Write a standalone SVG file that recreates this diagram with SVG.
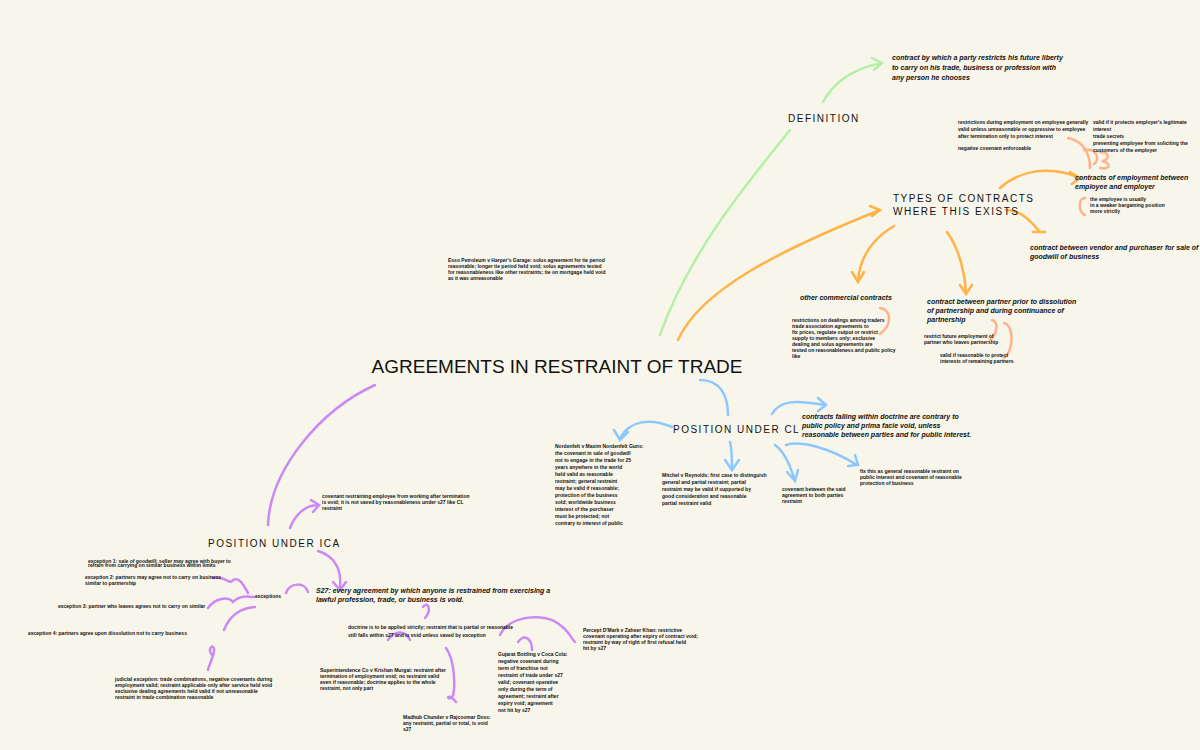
<svg xmlns="http://www.w3.org/2000/svg" width="1200" height="750" viewBox="0 0 1200 750">
<style>
.t{font-family:"Liberation Sans",Arial,sans-serif;fill:#111}
.s{font-size:5px;font-weight:bold}
.m{font-size:7px;font-style:italic;font-weight:bold}
.h{font-size:10px;letter-spacing:1.5px}
.g{fill:none;stroke:#b5f0a8;stroke-width:2.5;stroke-linecap:round}
.o{fill:none;stroke:#ffb347;stroke-width:2.5;stroke-linecap:round}
.p{fill:none;stroke:#ffb38a;stroke-width:2.5;stroke-linecap:round}
.b{fill:none;stroke:#8cc8ff;stroke-width:2.5;stroke-linecap:round}
.v{fill:none;stroke:#cc88f5;stroke-width:2.5;stroke-linecap:round}
</style>
<rect width="1200" height="750" fill="#f8f6ea"/>
<g id="connectors">
<path class="g" d="M660 335 C690 250 750 180 790 130"/>
<path class="g" d="M823 102 C835 80 855 68 882 63 M872 58 L882 63 L874 70"/>
<path class="o" d="M678 340 C700 290 780 250 880 210 M870 206 L880 210 L872 216"/>
<path class="o" d="M1000 188 C1020 170 1050 165 1080 178 M1070 172 L1080 178 L1072 184"/>
<path class="o" d="M1006 210 C1020 210 1030 220 1040 232 M1033 232 L1045 232"/>
<path class="o" d="M894 226 C870 240 860 260 858 280 M852 272 L858 282 L864 272"/>
<path class="o" d="M947 232 C960 250 965 275 966 292 M960 285 L966 294 L972 285"/>
<path class="p" d="M1068 138 C1080 140 1090 150 1090 168 M1084 150 C1098 148 1100 160 1094 164"/>
<path class="p" d="M1100 152 C1110 152 1110 160 1102 161 C1112 163 1110 170 1100 168"/>
<path class="p" d="M1085 198 C1078 198 1078 212 1085 215"/>
<path class="p" d="M880 308 C892 310 892 325 880 334"/>
<path class="p" d="M992 320 C1000 322 996 336 990 340"/>
<path class="p" d="M1004 323 C1014 325 1014 350 1004 358"/>
<path class="b" d="M700 380 C720 380 728 395 728 415"/>
<path class="b" d="M672 427 C650 418 630 420 620 438 M614 430 L620 440 L628 432"/>
<path class="b" d="M772 414 C780 400 795 400 825 405 M818 398 L826 405 L818 411"/>
<path class="b" d="M730 442 C732 450 732 460 732 468 M725 460 L732 470 L739 460"/>
<path class="b" d="M775 445 C785 452 790 465 794 478 M787 472 L795 481 L798 470"/>
<path class="b" d="M786 445 C800 440 830 448 857 465 M848 466 L858 465 L855 455"/>
<path class="v" d="M268 525 C270 470 320 410 375 385"/>
<path class="v" d="M290 528 C295 515 305 505 318 505 M311 500 L319 505 L313 512"/>
<path class="v" d="M318 551 C335 556 342 570 340 588 M333 582 L340 590 L346 582"/>
<path class="v" d="M286 593 C290 582 305 582 308 592"/>
<path class="v" d="M213 578 C225 575 230 586 233 580 C240 576 245 588 248 593"/>
<path class="v" d="M208 608 C215 598 228 596 233 602 C238 596 248 596 254 597"/>
<path class="v" d="M224 630 C230 615 240 608 255 607"/>
<path class="v" d="M212 655 C206 648 215 642 214 652 C212 660 208 668 208 670"/>
<path class="v" d="M423 607 C428 600 432 610 425 618"/>
<path class="v" d="M388 640 C395 630 405 630 410 640"/>
<path class="v" d="M446 648 C455 660 456 690 452 698 C445 700 448 692 456 702"/>
<path class="v" d="M500 635 C510 615 545 612 560 625 C570 632 572 640 575 642"/>
<path class="v" d="M518 642 C525 632 532 640 532 650"/>
</g>
<g id="main"><text class="t" x="557" y="373" font-size="19" text-anchor="middle">AGREEMENTS IN RESTRAINT OF TRADE</text></g>
<g id="definition"><text class="t h" x="788" y="122">DEFINITION</text>
<text class="t m" x="892" y="60">contract by which a party restricts his future liberty</text><text class="t m" x="892" y="70">to carry on his trade, business or profession with</text><text class="t m" x="892" y="80">any person he chooses</text></g>
<g id="types"><text class="t h" x="893" y="202">TYPES OF CONTRACTS</text><text class="t h" x="893" y="215">WHERE THIS EXISTS</text>
<text class="t m" x="1075" y="180">contracts of employment between</text><text class="t m" x="1075" y="189">employee and employer</text>
<text class="t m" x="1030" y="250">contract between vendor and purchaser for sale of</text><text class="t m" x="1030" y="259">goodwill of business</text>
<text class="t m" x="800" y="300">other commercial contracts</text>
<text class="t m" x="927" y="304">contract between partner prior to dissolution</text><text class="t m" x="927" y="313">of partnership and during continuance of</text><text class="t m" x="927" y="322">partnership</text>
<text class="t s" x="958" y="124">restrictions during employment on employee generally</text><text class="t s" x="958" y="131">valid unless unreasonable or oppressive to employee</text><text class="t s" x="958" y="138">after termination only to protect interest</text>
<text class="t s" x="958" y="150">negative covenant enforceable</text>
<text class="t s" x="1093" y="124">valid if it protects employer's legitimate</text><text class="t s" x="1093" y="131">interest</text><text class="t s" x="1093" y="138">trade secrets</text><text class="t s" x="1093" y="145">preventing employee from soliciting the</text><text class="t s" x="1093" y="152">customers of the employer</text>
<text class="t s" x="1090" y="201">the employee is usually</text><text class="t s" x="1090" y="207">in a weaker bargaining position</text><text class="t s" x="1090" y="213">more strictly</text>
<text class="t s" x="792" y="322">restrictions on dealings among traders</text><text class="t s" x="792" y="328">trade association agreements to</text><text class="t s" x="792" y="334">fix prices, regulate output or restrict</text><text class="t s" x="792" y="340">supply to members only; exclusive</text><text class="t s" x="792" y="346">dealing and solus agreements are</text><text class="t s" x="792" y="352">tested on reasonableness and public policy</text><text class="t s" x="792" y="358">like</text>
<text class="t s" x="924" y="338">restrict future employment of</text><text class="t s" x="924" y="344">partner who leaves partnership</text>
<text class="t s" x="940" y="357">valid if reasonable to protect</text><text class="t s" x="940" y="363">interests of remaining partners</text></g>
<g id="note1"><text class="t s" x="448" y="262">Esso Petroleum v Harper's Garage: solus agreement for tie period</text><text class="t s" x="448" y="268">reasonable; longer tie period held void; solus agreements tested</text><text class="t s" x="448" y="274">for reasonableness like other restraints; tie on mortgage held void</text><text class="t s" x="448" y="280">as it was unreasonable</text></g>
<g id="cl"><text class="t h" x="673" y="433">POSITION UNDER CL</text>
<text class="t m" x="802" y="419">contracts falling within doctrine are contrary to</text><text class="t m" x="802" y="428">public policy and prima facie void, unless</text><text class="t m" x="802" y="437">reasonable between parties and for public interest.</text>
<text class="t s" x="555" y="448">Nordenfelt v Maxim Nordenfelt Guns:</text><text class="t s" x="555" y="455">the covenant in sale of goodwill</text><text class="t s" x="555" y="462">not to engage in the trade for 25</text><text class="t s" x="555" y="469">years anywhere in the world</text><text class="t s" x="555" y="476">held valid as reasonable</text><text class="t s" x="555" y="483">restraint; general restraint</text><text class="t s" x="555" y="490">may be valid if reasonable;</text><text class="t s" x="555" y="497">protection of the business</text><text class="t s" x="555" y="504">sold; worldwide business</text><text class="t s" x="555" y="511">interest of the purchaser</text><text class="t s" x="555" y="518">must be protected; not</text><text class="t s" x="555" y="525">contrary to interest of public</text>
<text class="t s" x="662" y="477">Mitchel v Reynolds: first case to distinguish</text><text class="t s" x="662" y="484">general and partial restraint; partial</text><text class="t s" x="662" y="491">restraint may be valid if supported by</text><text class="t s" x="662" y="498">good consideration and reasonable</text><text class="t s" x="662" y="505">partial restraint valid</text>
<text class="t s" x="782" y="491">covenant between the said</text><text class="t s" x="782" y="497">agreement to both parties</text><text class="t s" x="782" y="503">restraint</text>
<text class="t s" x="860" y="473">fix this as general reasonable restraint on</text><text class="t s" x="860" y="479">public interest and covenant of reasonable</text><text class="t s" x="860" y="485">protection of business</text></g>
<g id="ica"><text class="t h" x="208" y="547">POSITION UNDER ICA</text>
<text class="t s" x="322" y="498">covenant restraining employee from working after termination</text><text class="t s" x="322" y="504">is void; it is not saved by reasonableness under s27 like CL</text><text class="t s" x="322" y="510">restraint</text>
<text class="t m" x="316" y="593">S27: every agreement by which anyone is restrained from exercising a</text><text class="t m" x="316" y="602">lawful profession, trade, or business is void.</text>
<text class="t s" x="255" y="598">exceptions</text>
<text class="t s" x="88" y="563">exception 1: sale of goodwill; seller may agree with buyer to</text><text class="t s" x="88" y="567">refrain from carrying on similar business within limits</text>
<text class="t s" x="85" y="579">exception 2: partners may agree not to carry on business</text><text class="t s" x="85" y="585">similar to partnership</text>
<text class="t s" x="58" y="608">exception 3: partner who leaves agrees not to carry on similar</text>
<text class="t s" x="28" y="635">exception 4: partners agree upon dissolution not to carry business</text>
<text class="t s" x="115" y="681">judicial exception: trade combinations, negative covenants during</text><text class="t s" x="115" y="687">employment valid; restraint applicable only after service held void</text><text class="t s" x="115" y="693">exclusive dealing agreements held valid if not unreasonable</text><text class="t s" x="115" y="699">restraint in trade combination reasonable</text>
<text class="t s" x="348" y="629">doctrine is to be applied strictly; restraint that is partial or reasonable</text><text class="t s" x="348" y="637">still falls within s27 and is void unless saved by exception</text>
<text class="t s" x="320" y="672">Superintendence Co v Krishan Murgai: restraint after</text><text class="t s" x="320" y="678">termination of employment void; no restraint valid</text><text class="t s" x="320" y="684">even if reasonable; doctrine applies to the whole</text><text class="t s" x="320" y="690">restraint, not only part</text>
<text class="t s" x="403" y="719">Madhub Chunder v Rajcoomar Doss:</text><text class="t s" x="403" y="725">any restraint, partial or total, is void</text><text class="t s" x="403" y="731">s27</text>
<text class="t s" x="498" y="656">Gujarat Bottling v Coca Cola:</text><text class="t s" x="498" y="663">negative covenant during</text><text class="t s" x="498" y="670">term of franchise not</text><text class="t s" x="498" y="677">restraint of trade under s27</text><text class="t s" x="498" y="684">valid; covenant operative</text><text class="t s" x="498" y="691">only during the term of</text><text class="t s" x="498" y="698">agreement; restraint after</text><text class="t s" x="498" y="705">expiry void; agreement</text><text class="t s" x="498" y="712">not hit by s27</text>
<text class="t s" x="583" y="632">Percept D'Mark v Zaheer Khan: restrictive</text><text class="t s" x="583" y="638">covenant operating after expiry of contract void;</text><text class="t s" x="583" y="644">restraint by way of right of first refusal held</text><text class="t s" x="583" y="650">hit by s27</text></g>
</svg>
